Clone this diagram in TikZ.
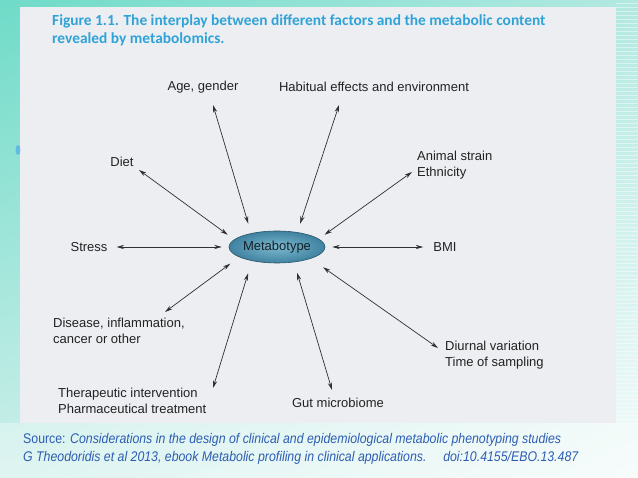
\documentclass[tikz,border=0pt]{standalone}
\usepackage{fontspec}
\setmainfont{Liberation Sans}
\newfontfamily\titlefnt{Carlito}
\newfontfamily\srcfnt[FakeStretch=0.88]{Liberation Sans}
\usetikzlibrary{arrows.meta,shapes.geometric,shadings}
\definecolor{tealtl}{HTML}{6FDBC8}
\definecolor{tealtr}{HTML}{B3E9E1}
\definecolor{tealbl}{HTML}{CDEFEA}
\definecolor{tealbr}{HTML}{F4FBFA}
\definecolor{panelgray}{HTML}{EDEEF2}
\definecolor{titleblue}{HTML}{2FA3D8}
\definecolor{srcblue}{HTML}{2D5DB3}
\definecolor{labelgray}{HTML}{222222}
\definecolor{arrowgray}{HTML}{303030}
\definecolor{metalight}{HTML}{7DB9CE}
\definecolor{metadark}{HTML}{3F82A0}
\definecolor{metaedge}{HTML}{2A5668}
\definecolor{metatext}{HTML}{14212A}
\newcommand\lblfont{\fontsize{13}{16}\selectfont}
\begin{document}
\begin{tikzpicture}[x=1pt,y=-1pt,
    every node/.style={inner sep=0pt, text=labelgray, font=\lblfont},
    metabox/.style={ellipse, draw=metaedge, line width=.6pt, inner color=metalight,
      outer color=metadark, minimum width=90pt, minimum height=32pt, text=metatext},
    link/.style={<->, >={Stealth[length=7.5pt,width=4.2pt]}, draw=arrowgray, line width=.7pt}]
  \useasboundingbox (0,0) rectangle (638,478);
  \shade[upper left=tealtl, upper right=tealtr, lower left=tealbl, lower right=tealbr]
    (0,0) rectangle (638,478);
  \foreach \y in {3,7,...,423}
    \draw[white, opacity=.45, line width=.8pt] (616,\y) -- (638,\y);
  \fill[white, opacity=.35] (0,423) rectangle (638,478);
  \fill[panelgray] (20,7) rectangle (616,423);
  \fill[blue!60!cyan, opacity=.3] (18,150) ellipse (2.5 and 5);
  \node[anchor=north west, align=left, text=titleblue,
    font=\titlefnt\bfseries\fontsize{15.4}{18.3}\selectfont] (title) at (52,14)
    {Figure 1.1. The interplay between different factors and the metabolic content\\
     revealed by metabolomics.};
  \node[anchor=north west, align=left, text=srcblue,
    font=\srcfnt\fontsize{14}{18}\selectfont] (source) at (23,433)
    {Source: \textit{Considerations in the design of clinical and epidemiological metabolic phenotyping studies}\\
     \textit{G Theodoridis et al 2013, ebook Metabolic profiling in clinical applications.\hspace{1.2em}doi:10.4155/EBO.13.487}};
  \draw
    (277,247) node[metabox] (meta) {Metabotype}
    (203,87) node (age) {Age, gender}
    (374,87) node (habit) {Habitual effects and environment}
    (122,162) node (diet) {Diet}
    (417,165) node[anchor=west, align=left] (animal) {Animal strain\\Ethnicity}
    (89,247) node (stress) {Stress}
    (445,247) node (bmi) {BMI}
    (53,331) node[anchor=west, align=left] (disease) {Disease, inflammation,\\cancer or other}
    (58,401) node[anchor=west, align=left] (thera) {Therapeutic intervention\\Pharmaceutical treatment}
    (338,403) node (gut) {Gut microbiome}
    (445,355) node[anchor=west, align=left] (diurnal) {Diurnal variation\\Time of sampling};
  \begin{scope}[link]
    \draw[shorten <=10pt] (meta.152) -- ([shift={(10,18)}]age.center);
    \draw[shorten <=9pt] (meta.36) -- ([shift={(-35,18)}]habit.center);
    \draw[shorten <=8pt] (meta.170) -- ([shift={(17,8)}]diet.center);
    \draw[shorten <=7pt] (meta.11) -- ([shift={(-5,7)}]animal.west);
    \draw[shorten <=7pt] (meta.west) -- ([shift={(9,0)}]stress.east);
    \draw[shorten <=7pt] (meta.east) -- ([shift={(-10,0)}]bmi.west);
    \draw[shorten <=11pt] (meta.195) -- ([shift={(112,-19)}]disease.west);
    \draw[shorten <=13pt] (meta.209) -- ([shift={(155,-13)}]thera.west);
    \draw[shorten <=11pt] (meta.318) -- ([shift={(-6,-13)}]gut.center);
    \draw[shorten <=15pt] (meta.341) -- ([shift={(-7,-7)}]diurnal.west);
  \end{scope}
\end{tikzpicture}
\end{document}
